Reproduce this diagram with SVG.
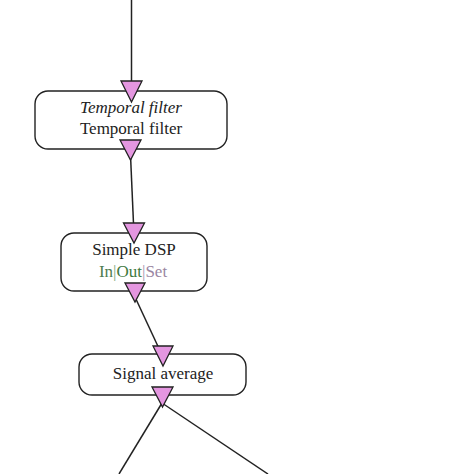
<svg xmlns="http://www.w3.org/2000/svg" width="474" height="474" viewBox="0 0 474 474">
<style>
.box{fill:#fff;stroke:#222;stroke-width:1.4}
.tri{fill:#e496e0;stroke:#222;stroke-width:1.3;stroke-linejoin:miter}
.edge{stroke:#222;stroke-width:1.5;fill:none}
text{font-family:"Liberation Serif",serif;font-size:17px;fill:#222;text-anchor:middle}
</style>
<rect width="474" height="474" fill="#fff"/>
<g id="connectors">
<line class="edge" x1="131.5" y1="0" x2="131.5" y2="92"/>
<line class="edge" x1="130.5" y1="155" x2="134" y2="235"/>
<line class="edge" x1="135" y1="297" x2="162" y2="355"/>
<line class="edge" x1="162" y1="403" x2="119" y2="474"/>
<line class="edge" x1="162" y1="403" x2="268" y2="474"/>
</g>
<g id="temporal-filter">
<rect class="box" x="35" y="91" width="192" height="58" rx="13"/>
<text x="131" y="113" font-style="italic">Temporal filter</text>
<text x="131" y="134">Temporal filter</text>
<polygon class="tri" points="121,81 142,81 131.5,102"/>
<polygon class="tri" points="120,140 141,140 130.5,160"/>
</g>
<g id="simple-dsp">
<rect class="box" x="61" y="233" width="146" height="58" rx="13"/>
<text x="134" y="255">Simple DSP</text>
<text x="133" y="277"><tspan fill="#4f7d4f">In</tspan><tspan fill="#7aa87a">|</tspan><tspan fill="#3f7a3f">Out</tspan><tspan fill="#a596ad">|</tspan><tspan fill="#9a86a2">Set</tspan></text>
<polygon class="tri" points="123.5,223 144.5,223 134,243"/>
<polygon class="tri" points="125,283 145,283 135,302"/>
</g>
<g id="signal-average">
<rect class="box" x="79" y="354" width="167" height="41" rx="13"/>
<text x="163" y="379">Signal average</text>
<polygon class="tri" points="153,346 173,346 163,366"/>
<polygon class="tri" points="152,387 173,387 162.5,407"/>
</g>
</svg>
